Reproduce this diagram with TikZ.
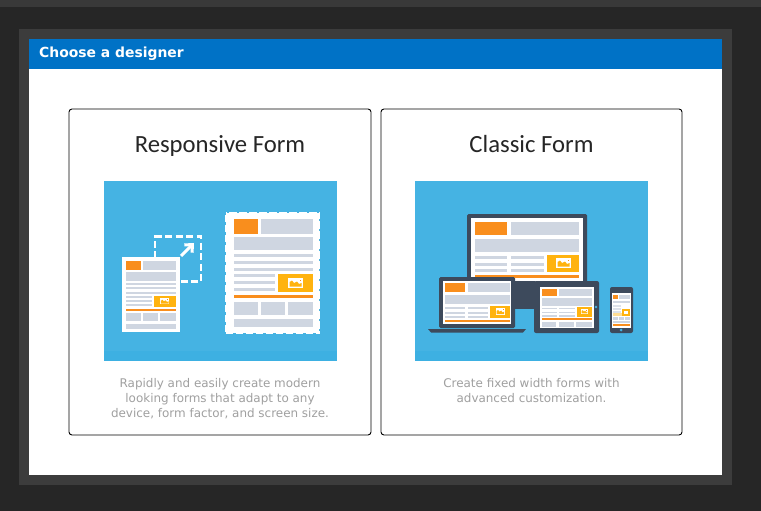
\documentclass[tikz,border=0pt]{standalone}
\usepackage{fontspec}
\setmainfont{DejaVu Sans}
\newfontfamily\headfont{Carlito}
\usetikzlibrary{arrows.meta}
\definecolor{pagedark}{HTML}{262626}
\definecolor{framegray}{HTML}{3C3C3C}
\definecolor{titleblue}{HTML}{0072C6}
\definecolor{panelblue}{HTML}{45B3E3}
\definecolor{panelband}{HTML}{3DB0E2}
\definecolor{formgray}{HTML}{CFD6E1}
\definecolor{formorange}{HTML}{F98E1D}
\definecolor{formyellow}{HTML}{FFB30F}
\definecolor{slate}{HTML}{3D4A5C}
\definecolor{hinttext}{HTML}{A0A0A0}
\tikzset{
    gr/.style={fill=formgray},
    og/.style={fill=formorange},
    yl/.style={fill=formyellow},
    wh/.style={fill=white},
    dk/.style={fill=slate},
    card/.style={draw=black,fill=white,rounded corners=3pt,line width=0.9pt,
        minimum height=326pt,inner sep=0pt},
    heading/.style={anchor=base,inner sep=0pt,font=\headfont\fontsize{24.7}{28}\selectfont,text=black!85},
    hint/.style={align=center,text=hinttext,font=\fontsize{11.95}{15}\selectfont}
}
% small picture inside the yellow block
\newcommand{\imgicon}[2]{
    \begin{scope}[shift={(#1,#2)}]
        \fill[wh] (0,0) rectangle (15,10);
        \fill[formyellow] (1.5,8.5) -- (1.5,4) -- (4,2.5) -- (6,5) -- (9,3.5) -- (11,6) -- (13.5,5) -- (13.5,8.5) -- cycle;
        \fill[formorange] (11.5,1.5) rectangle (13,3);
    \end{scope}
}
% page with the bottom cells
\newcommand{\sheetform}[3]{
    \begin{scope}[shift={(#1,#2)},scale=#3]
        \fill[og] (0,0) rectangle (24,15);
        \fill[gr] (27,0) rectangle (79,15);
        \fill[gr] (0,18) rectangle (79,31);
        \foreach \y in {35,42,49} \fill[gr] (0,\y) rectangle (79,\y+3);
        \foreach \y in {55,62,69} \fill[gr] (0,\y) rectangle (41,\y+3);
        \fill[yl] (44,55) rectangle (79,73);
        \imgicon{54}{59}
        \fill[og] (0,76) rectangle (79,79);
        \fill[gr] (0,83) rectangle (24,96);
        \fill[gr] (27,83) rectangle (51,96);
        \fill[gr] (54,83) rectangle (79,96);
        \fill[gr] (0,100) rectangle (79,108);
    \end{scope}
}
% page as shown on the screens
\newcommand{\screenform}[4]{
    \begin{scope}[shift={(#1,#2)},xscale=#3,yscale=#4]
        \fill[og] (0,0) rectangle (32,13);
        \fill[gr] (36,0) rectangle (104,13);
        \fill[gr] (0,17) rectangle (104,30);
        \foreach \y in {34,41,47} {
            \fill[gr] (0,\y) rectangle (32,\y+3);
            \fill[gr] (36,\y) rectangle (69,\y+3);
        }
        \fill[yl] (72,33) rectangle (104,50);
        \imgicon{81}{36}
        \fill[og] (0,53) rectangle (104,56);
    \end{scope}
}
\begin{document}
\begin{tikzpicture}[x=1pt,y=-1pt]
    \useasboundingbox (0,0) rectangle (761,511);
    % window
    \fill[pagedark] (0,0) rectangle (761,511);
    \fill[framegray!85!pagedark] (0,0) rectangle (761,7);
    \fill[framegray] (19,29) rectangle (732,485);
    \fill[white] (29,39) rectangle (722,475);
    \fill[titleblue] (29,39) rectangle (722,69);
    \node[anchor=west,text=white,inner sep=0pt,font=\bfseries\fontsize{13.9}{15}\selectfont] (title) at (39,54) {Choose a designer};

    \node[card,minimum width=302pt] (responsive) at (220,272) {};
    \node[card,minimum width=301pt] (classic) at (531.5,272) {};
    \node[heading] (responsivehead) at (220,153) {Responsive Form};
    \node[heading] (classichead) at (531.5,153) {Classic Form};

    \fill[panelblue] (104,181) rectangle (337,361);
    \fill[panelblue] (415,181) rectangle (648,361);
    \fill[panelband] (104,351) rectangle (337,361);
    \fill[panelband] (415,351) rectangle (648,361);

    \node[hint] (responsivehint) at (220,398.5) {Rapidly and easily create modern\\looking forms that adapt to any\\device, form factor, and screen size.};
    \node[hint] (classichint) at (531.5,391) {Create fixed width forms with\\advanced customization.};

    % responsive picture
    \draw[white,line width=2.6pt,dash pattern=on 7pt off 3.5pt] (155,258) -- (155,236.5) -- (201,236.5) -- (201,281.5) -- (176,281.5);
    \coordinate (growstart) at (181,256);
    \coordinate (growend) at (194,243);
    \draw[white,line width=3pt,-{Straight Barb[length=6pt,width=11pt]}] (growstart) -- (growend);
    \fill[wh] (122,257) rectangle (180,332);
    \sheetform{126}{261}{0.63}
    \fill[wh] (225,212) rectangle (320,334);
    \draw[panelblue,line width=1.6pt,dash pattern=on 2.5pt off 7.5pt] (225,212) rectangle (320,334);
    \sheetform{234}{219}{1}

    % monitor
    \fill[dk,rounded corners=1.5pt] (467,214) rectangle (587,284);
    \fill[wh] (471,218) rectangle (583,284);
    \screenform{475}{222}{1}{1}
    \fill[dk] (515,281) rectangle (535,309);
    % laptop
    \fill[dk,rounded corners=1.5pt] (439,277) rectangle (515,328);
    \fill[dk] (428,329) -- (526,329) -- (523,332.5) -- (431,332.5) -- cycle;
    \fill[wh] (443,281) rectangle (511,324);
    \screenform{445}{283}{0.625}{0.7}
    % tablet
    \fill[dk,rounded corners=2pt] (534,281) rectangle (599,333);
    \fill[wh] (540,287) rectangle (594,328);
    \screenform{542}{289}{0.48}{0.55}
    \fill[gr] (542,322) rectangle (556,327);
    \fill[gr] (559,322) rectangle (574,327);
    \fill[gr] (576,322) rectangle (592,327);
    \fill[panelblue] (596,307) circle (1.3);
    % phone
    \fill[dk,rounded corners=2pt] (610,287) rectangle (633,333);
    \fill[wh] (612,293) rectangle (631,328);
    \fill[og] (613,295) rectangle (618,299);
    \fill[gr] (619,295) rectangle (630,299);
    \fill[gr] (613,301) rectangle (630,303);
    \foreach \y in {305,308,311} \fill[formgray!70!white] (613,\y) rectangle (621,\y+1.5);
    \fill[formyellow!45!white] (613,313) rectangle (630,316);
    \fill[yl] (622,309) rectangle (630,316);
    \fill[wh] (624,311) rectangle (628,314);
    \fill[gr] (613,317) rectangle (618,320);
    \fill[gr] (619,317) rectangle (624,320);
    \fill[gr] (625,317) rectangle (630,320);
    \fill[gr] (613,321) rectangle (630,323);
    \fill[og] (613,324) rectangle (630,325.5);
    \fill[panelblue] (621,330) circle (1.5);
\end{tikzpicture}
\end{document}
